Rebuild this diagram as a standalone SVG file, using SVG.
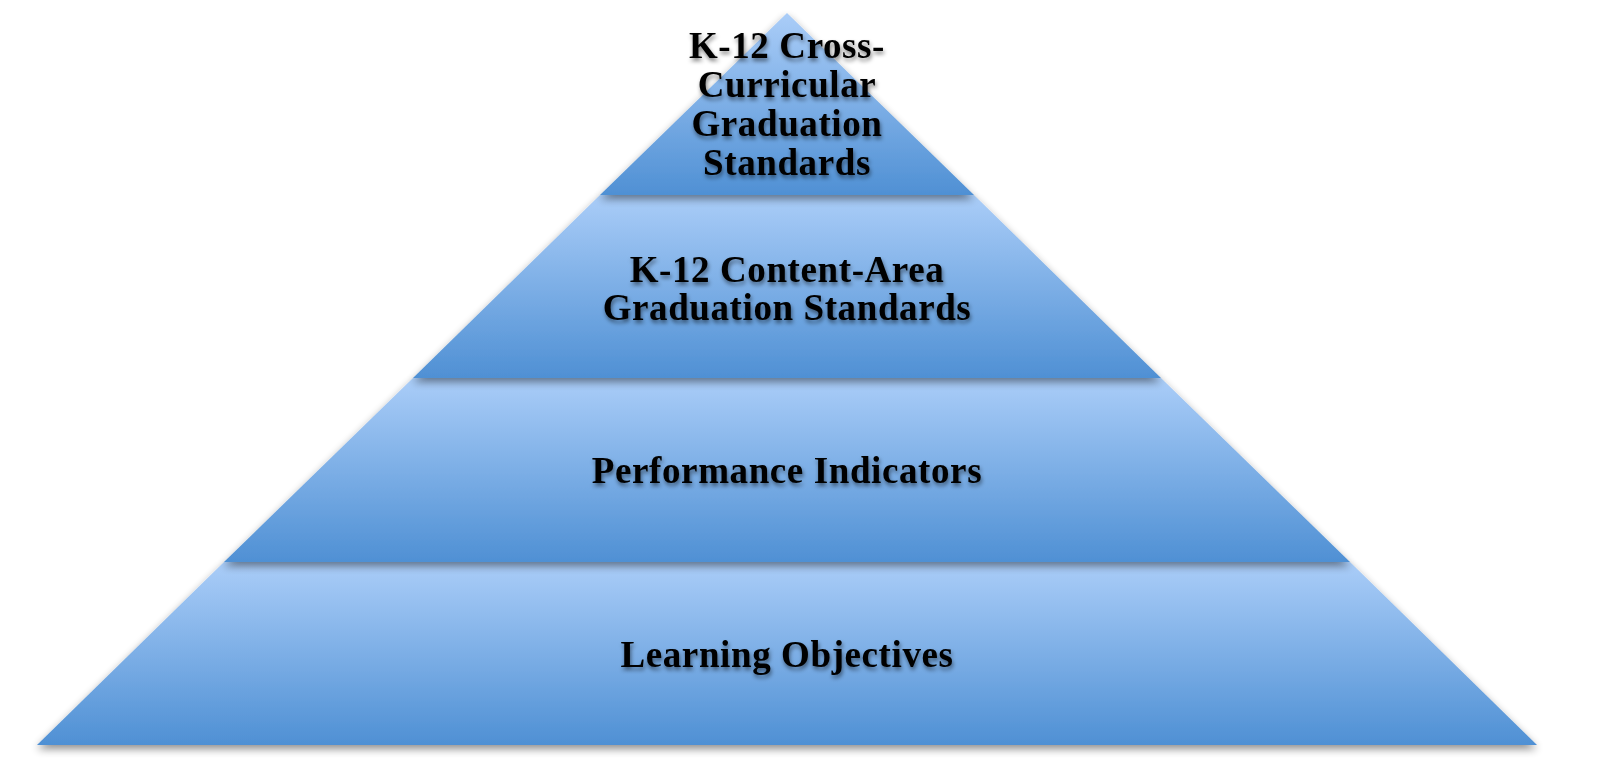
<svg xmlns="http://www.w3.org/2000/svg" width="1600" height="783" viewBox="0 0 1600 783">
<defs>
<linearGradient id="g" x1="0" y1="0" x2="0" y2="1">
<stop offset="0" stop-color="#aacdf8"/>
<stop offset="1" stop-color="#4f90d4"/>
</linearGradient>
<filter id="sh" x="-10%" y="-10%" width="120%" height="130%">
<feGaussianBlur in="SourceAlpha" stdDeviation="4"/>
<feOffset dy="4"/>
<feComponentTransfer><feFuncA type="linear" slope="0.45"/></feComponentTransfer>
<feMerge><feMergeNode/><feMergeNode in="SourceGraphic"/></feMerge>
</filter>
<filter id="ts" x="-10%" y="-20%" width="120%" height="150%">
<feGaussianBlur in="SourceAlpha" stdDeviation="2"/>
<feOffset dx="1" dy="3"/>
<feComponentTransfer><feFuncA type="linear" slope="0.5"/></feComponentTransfer>
<feMerge><feMergeNode/><feMergeNode in="SourceGraphic"/></feMerge>
</filter>
</defs>
<style>
.b{fill:url(#g);filter:url(#sh)}
.t{font-family:"Liberation Serif",serif;font-weight:bold;font-size:37px;letter-spacing:0.6px;fill:#000;text-anchor:middle;filter:url(#ts)}
</style>
<rect width="1600" height="783" fill="#fff"/>
<g id="layer4"><polygon class="b" points="224,562 1350,562 1537,745 37,745"/><text class="t" x="787" y="667">Learning Objectives</text></g>
<g id="layer3"><polygon class="b" points="413,378 1161,378 1350,562 224,562"/><text class="t" x="787" y="483">Performance Indicators</text></g>
<g id="layer2"><polygon class="b" points="600,195 974,195 1161,378 413,378"/><text class="t" x="787" y="282">K-12 Content-Area</text><text class="t" x="787" y="320">Graduation Standards</text></g>
<g id="layer1"><polygon class="b" points="787,13 974,195 600,195"/><text class="t" x="787" y="58">K-12 Cross-</text><text class="t" x="787" y="97">Curricular</text><text class="t" x="787" y="136">Graduation</text><text class="t" x="787" y="175">Standards</text></g>
<g id="connectors"/>
</svg>
